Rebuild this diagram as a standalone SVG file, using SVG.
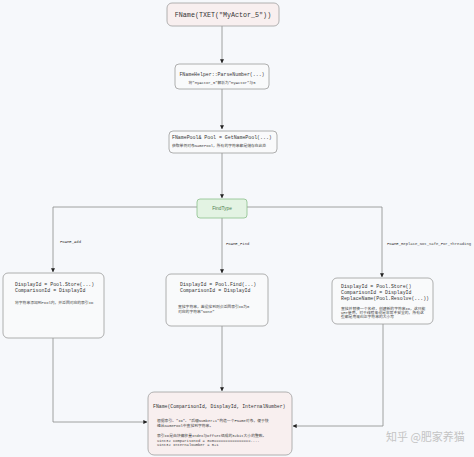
<svg xmlns="http://www.w3.org/2000/svg" width="474" height="457" viewBox="0 0 474 457">
<defs>
<marker id="arr" viewBox="0 0 6 6" refX="5.5" refY="3" markerWidth="4" markerHeight="4" orient="auto" markerUnits="userSpaceOnUse">
<path d="M0,0 L6,3 L0,6 z" fill="#222"/>
</marker>
<style>
.bg{fill:#f6f8fb}
.n{fill:#f9fafb;stroke:#9c9c9c;stroke-width:0.8}
.p{fill:#f8efef;stroke:#a0a0a0;stroke-width:0.8}
.g{fill:#e3f3e3;stroke:#8cbf8c;stroke-width:0.8}
.c{font-family:"Liberation Mono","Noto Sans CJK SC",monospace;font-size:4.9px;fill:#333}
.big{font-size:6.7px}
.t8{font-size:4.8px}
.z{font-family:"Liberation Mono","Noto Sans CJK SC",monospace;font-size:3.8px;fill:#444}
.l{font-family:"Liberation Mono",monospace;font-size:3.9px;fill:#444}
.ft{font-family:"Liberation Sans",sans-serif;font-size:4.8px;fill:#4f7f4f}
.e{fill:none;stroke:#8a8a8a;stroke-width:0.8}
.wm{font-family:"Noto Sans CJK SC",sans-serif;font-size:11px;fill:#c4c4c4}
</style>
</defs>
<rect class="bg" x="0" y="0" width="474" height="457"/>

<g id="edges">
<path class="e" d="M222,26 V63" marker-end="url(#arr)"/>
<path class="e" d="M222,89 V129" marker-end="url(#arr)"/>
<path class="e" d="M222,153 V198" marker-end="url(#arr)"/>
<path class="e" d="M197,207 H53 V272" marker-end="url(#arr)"/>
<path class="e" d="M222,218 V273" marker-end="url(#arr)"/>
<path class="e" d="M247,207 H382 V277" marker-end="url(#arr)"/>
<path class="e" d="M53,338 V422 H147" marker-end="url(#arr)"/>
<path class="e" d="M222,326 V391" marker-end="url(#arr)"/>
<path class="e" d="M383,324 V426 H293" marker-end="url(#arr)"/>
<text class="l" x="60" y="243">FNAME_Add</text>
<text class="l" x="226" y="245">FNAME_Find</text>
<text class="l" x="387" y="245">FNAME_Replace_Not_Safe_For_Threading</text>
</g>

<g id="n1">
<rect class="p" x="167" y="3" width="112" height="23" rx="5"/>
<text class="c big" x="223" y="17" text-anchor="middle">FName(TXET("MyActor_5"))</text>
</g>

<g id="n2">
<rect class="n" x="175" y="64" width="94" height="25" rx="4"/>
<text class="c" x="222" y="76" text-anchor="middle">FNameHelper::ParseNumber(...)</text>
<text class="z" x="222" y="84" text-anchor="middle">将"MyActor_5"解析为"MyActor"与5</text>
</g>

<g id="n3">
<rect class="n" x="169" y="131" width="108" height="22" rx="4"/>
<text class="c" x="172" y="139">FNamePool&amp; Pool = GetNamePool(...)</text>
<text class="z" x="172" y="147">获取单例对象NamePool，所有的字符串都是储存在此处</text>
</g>

<g id="n4">
<rect class="g" x="197" y="199" width="50" height="19" rx="3"/>
<text class="ft" x="222" y="210" text-anchor="middle">FindType</text>
</g>

<g id="n5">
<rect class="n" x="3" y="273" width="101" height="65" rx="5"/>
<text class="c" x="15" y="286">DisplayId = Pool.Store(...)</text>
<text class="c" x="15" y="292">ComparisonId = DisplayId</text>
<text class="z" x="15" y="304">将字符串添加到Pool内，并返回对应的索引ID</text>
</g>

<g id="n6">
<rect class="n" x="166" y="274" width="102" height="52" rx="5"/>
<text class="c" x="180" y="286">DisplayId = Pool.Find(...)</text>
<text class="c" x="180" y="292">ComparisonId = DisplayId</text>
<text class="z" x="178" y="308">查找字符串，若没找到则会返回索引ID为0</text>
<text class="z" x="178" y="312.5">对应的字符串"None"</text>
</g>

<g id="n7">
<rect class="n" x="332" y="278" width="101" height="46" rx="5"/>
<text class="c" x="341" y="288">DisplayId = Pool.Store()</text>
<text class="c" x="341" y="294">ComparisonId = DisplayId</text>
<text class="c" x="341" y="300">ReplaceName(Pool.Resolve(...))</text>
<text class="z" x="341" y="309.5">查找并替换一个名称，创建新的字符串ID，这只能</text>
<text class="z" x="341" y="313.5">UHT使用，对于线程来说是非常不安全的，所有这</text>
<text class="z" x="341" y="317.5">些都是用来纠正字符串的大小写</text>
</g>

<g id="n8">
<rect class="p" x="148" y="392" width="144" height="63" rx="6"/>
<text class="c t8" x="153" y="408">FName(ComparisonId, DisplayId, InternalNumber)</text>
<text class="z" x="157" y="422">根据索引、"ID"、"后缀Number+1"构造一个FName对象，便于快</text>
<text class="z" x="157" y="426.5">速从NamePool中查找到字符串。</text>
<text class="z" x="157" y="437">索引ID是由块偏移量Index与Offset组成的32bit大小的整数。</text>
<text class="z" x="157" y="441.5">uint32 ComparisonId = 0X0XXXXXXXXXXXXXXXX....</text>
<text class="z" x="157" y="446">uint32 InternalNumber = 5+1</text>
</g>

<text class="wm" x="386" y="441">知乎 @肥家养猫</text>
</svg>
